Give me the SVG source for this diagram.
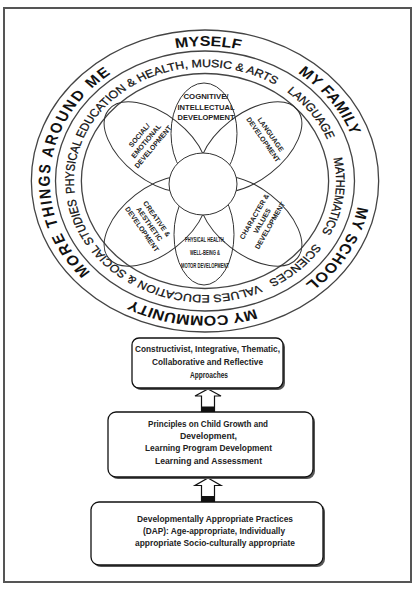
<svg xmlns="http://www.w3.org/2000/svg" width="417" height="589" viewBox="0 0 417 589">
<style>
.ring{fill:none;stroke:#444;stroke-width:1.3}
.pet{fill:none;stroke:#333;stroke-width:1}
.t1{font-family:"Liberation Sans",Arial,sans-serif;font-weight:bold;font-size:14px;fill:#111;text-anchor:middle}
.t2{font-family:"Liberation Sans",Arial,sans-serif;font-size:10.8px;fill:#111;stroke:#111;stroke-width:0.25;text-anchor:middle}
.pl{font-family:"Liberation Sans",Arial,sans-serif;font-weight:bold;font-size:7px;fill:#222;text-anchor:middle}
.bx{fill:#fff;stroke:#111;stroke-width:1.3}
.sh{fill:#555}
.bt{font-family:"Liberation Sans",Arial,sans-serif;font-weight:bold;font-size:9px;fill:#222;text-anchor:middle}
.ar{fill:#fff;stroke:#111;stroke-width:1.2}
</style>
<defs>
<path id="po" d="M0,-135 A135,135 0 1,1 0,135 A135,135 0 1,1 0,-135 A135,135 0 1,1 0,135 A135,135 0 1,1 0,-135"/>
<path id="pi" d="M0,-114 A114,114 0 1,1 0,114 A114,114 0 1,1 0,-114 A114,114 0 1,1 0,114 A114,114 0 1,1 0,-114"/>
</defs>
<rect x="4" y="8" width="407" height="574" fill="#fff" stroke="#555" stroke-width="2"/>
<g id="rings" transform="translate(205,181) scale(1.15,1)">
<circle r="151" class="ring" stroke="#888" vector-effect="non-scaling-stroke"/>
<circle r="130" class="ring" vector-effect="non-scaling-stroke"/>
<circle r="107.5" class="ring" vector-effect="non-scaling-stroke"/>
<text class="t1"><textPath href="#po" startOffset="850.6">MYSELF</textPath></text>
<text class="t1" letter-spacing="0.5"><textPath href="#po" startOffset="126">MY FAMILY</textPath></text>
<text class="t1" letter-spacing="0.9"><textPath href="#po" startOffset="284">MY SCHOOL</textPath></text>
<text class="t1"><textPath href="#po" startOffset="435">MY COMMUNITY</textPath></text>
<text class="t1" letter-spacing="1.8"><textPath href="#po" startOffset="648.7">MORE THINGS AROUND ME</textPath></text>
<text class="t2"><textPath href="#pi" startOffset="652">PHYSICAL EDUCATION &amp; HEALTH, MUSIC &amp; ARTS</textPath></text>
<text class="t2"><textPath href="#pi" startOffset="106.6">LANGUAGE</textPath></text>
<text class="t2"><textPath href="#pi" startOffset="194.2">MATHEMATICS</textPath></text>
<text class="t2"><textPath href="#pi" startOffset="272.6">SCIENCES</textPath></text>
<text class="t2"><textPath href="#pi" startOffset="413.8">VALUES EDUCATION &amp; SOCIAL STUDIES</textPath></text>
</g>
<g id="petals">
<ellipse class="pet" cx="204" cy="133.5" rx="33" ry="50.5"/>
<ellipse class="pet" cx="204" cy="234.5" rx="30" ry="50.5"/>
<ellipse class="pet" cx="155.7" cy="147.1" rx="60" ry="33" transform="rotate(38 155.7 147.1)"/>
<ellipse class="pet" cx="250.3" cy="147.1" rx="60" ry="33" transform="rotate(-38 250.3 147.1)"/>
<ellipse class="pet" cx="155.7" cy="220.9" rx="60" ry="33" transform="rotate(-38 155.7 220.9)"/>
<ellipse class="pet" cx="250.3" cy="220.9" rx="60" ry="33" transform="rotate(38 250.3 220.9)"/>
<ellipse cx="203" cy="184" rx="34" ry="31" fill="#fff" stroke="#333" stroke-width="1"/>
</g>
<g id="cognitive">
<text class="pl" font-size="7.5" x="206" y="99" textLength="45" lengthAdjust="spacingAndGlyphs">COGNITIVE/</text>
<text class="pl" font-size="7.5" x="206" y="110" textLength="57" lengthAdjust="spacingAndGlyphs">INTELLECTUAL</text>
<text class="pl" font-size="7.5" x="206" y="120" textLength="57" lengthAdjust="spacingAndGlyphs">DEVELOPMENT</text>
</g>
<g id="physical">
<text class="pl" font-size="8" font-weight="normal" x="205" y="242" textLength="40" lengthAdjust="spacingAndGlyphs">PHYSICAL HEALTH,</text>
<text class="pl" font-size="8" font-weight="normal" x="205" y="255" textLength="30" lengthAdjust="spacingAndGlyphs">WELL-BEING &amp;</text>
<text class="pl" font-size="8" font-weight="normal" x="205" y="268" textLength="48" lengthAdjust="spacingAndGlyphs">MOTOR DEVELOPMENT</text>
</g>
<g id="social" transform="translate(146,141) rotate(-50)">
<text class="pl" x="0" y="-6.5">SOCIAL/</text>
<text class="pl" x="0" y="2.5">EMOTIONAL</text>
<text class="pl" x="0" y="11.5">DEVELOPMENT</text>
</g>
<g id="language" transform="translate(267,137) rotate(55)">
<text class="pl" x="0" y="-2">LANGUAGE</text>
<text class="pl" x="0" y="7">DEVELOPMENT</text>
</g>
<g id="creative" transform="translate(149.5,224) rotate(55)">
<text class="pl" x="0" y="-6.5">CREATIVE &amp;</text>
<text class="pl" x="0" y="2.5">AESTHETIC</text>
<text class="pl" x="0" y="11.5">DEVELOPMENT</text>
</g>
<g id="character" transform="translate(262,221) rotate(-60)">
<text class="pl" x="0" y="-6.5">CHARACTER &amp;</text>
<text class="pl" x="0" y="2.5">VALUES</text>
<text class="pl" x="0" y="11.5">DEVELOPMENT</text>
</g>
<g id="connectors">
<polygon class="ar" points="208,389 221,396 214.5,396 214.5,412 201.5,412 201.5,396 195,396"/>
<rect x="201.5" y="406.5" width="13" height="5.5" fill="#111"/>
<polygon class="ar" points="208,478 221,485.5 214.5,485.5 214.5,502 201.5,502 201.5,485.5 195,485.5"/>
<rect x="201.5" y="496" width="13" height="6" fill="#111"/>
</g>
<g id="box1">
<rect class="sh" x="134" y="340" width="151" height="50" rx="7"/>
<rect class="bx" x="132" y="338" width="151" height="50" rx="7"/>
<text class="bt" x="207.5" y="352" textLength="145" lengthAdjust="spacingAndGlyphs">Constructivist, Integrative, Thematic,</text>
<text class="bt" x="207.5" y="365" textLength="111" lengthAdjust="spacingAndGlyphs">Collaborative and Reflective</text>
<text class="bt" x="209" y="378" textLength="38" lengthAdjust="spacingAndGlyphs">Approaches</text>
</g>
<g id="box2">
<rect class="sh" x="110" y="414" width="205" height="65" rx="8"/>
<rect class="bx" x="108" y="412" width="205" height="65" rx="8"/>
<text class="bt" x="208" y="427" textLength="120" lengthAdjust="spacingAndGlyphs">Principles on Child Growth and</text>
<text class="bt" x="208.5" y="439" textLength="57" lengthAdjust="spacingAndGlyphs">Development,</text>
<text class="bt" x="208.5" y="451" textLength="127" lengthAdjust="spacingAndGlyphs">Learning Program Development</text>
<text class="bt" x="208.5" y="464" textLength="107" lengthAdjust="spacingAndGlyphs">Learning and Assessment</text>
</g>
<g id="box3">
<rect class="sh" x="93" y="504" width="232" height="63" rx="8"/>
<rect class="bx" x="91" y="502" width="232" height="63" rx="8"/>
<text class="bt" x="215" y="522" textLength="156" lengthAdjust="spacingAndGlyphs">Developmentally Appropriate Practices</text>
<text class="bt" x="214" y="534" textLength="142" lengthAdjust="spacingAndGlyphs">(DAP): Age-appropriate, Individually</text>
<text class="bt" x="215" y="546" textLength="160" lengthAdjust="spacingAndGlyphs">appropriate Socio-culturally appropriate</text>
</g>
</svg>
